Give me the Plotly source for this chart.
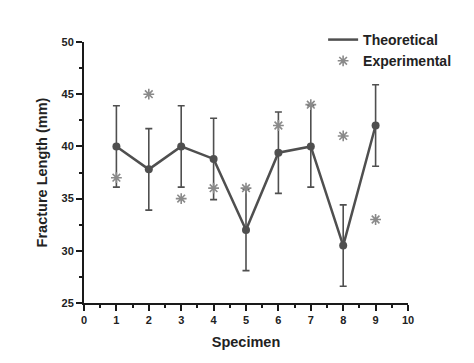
import plotly.graph_objects as go

specimen = [1, 2, 3, 4, 5, 6, 7, 8, 9]
theoretical = [40.0, 37.8, 40.0, 38.8, 32.0, 39.4, 40.0, 30.5, 42.0]
theo_err = [3.9, 3.9, 3.9, 3.9, 3.9, 3.9, 3.9, 3.9, 3.9]
experimental = [37, 45, 35, 36, 36, 42, 44, 41, 33]

FONT = "Arial, 'Liberation Sans', sans-serif"
LINE_C = "#4f4f4f"
EXP_C = "#8a8a8a"

fig = go.Figure()
fig.add_trace(go.Scatter(
    x=specimen, y=theoretical, mode="lines+markers", name="Theoretical",
    line=dict(color=LINE_C, width=2.5),
    marker=dict(symbol="circle", size=8, color=LINE_C),
    error_y=dict(type="data", array=theo_err, visible=True,
                 color=LINE_C, thickness=1.6, width=3.5),
    showlegend=False,
))
fig.add_trace(go.Scatter(
    x=[None], y=[None], mode="lines", name="Theoretical",
    line=dict(color=LINE_C, width=2.5),
))
fig.add_trace(go.Scatter(
    x=specimen, y=experimental, mode="markers", name="Experimental",
    marker=dict(symbol="asterisk-open", size=9, color=EXP_C,
                line=dict(color=EXP_C, width=1.6)),
))

axis_common = dict(
    showline=True, linecolor="#1a1a1a", linewidth=2,
    ticks="outside", tickcolor="#1a1a1a", tickwidth=2, ticklen=6,
    showgrid=False, zeroline=False, mirror=False,
    tickfont=dict(family=FONT, size=11, color="#222", weight="bold"),
)

fig.update_layout(
    width=466, height=355,
    margin=dict(l=76, r=66, t=34, b=60),
    paper_bgcolor="white", plot_bgcolor="white",
    font=dict(family=FONT, color="#222"),
    xaxis=dict(range=[0, 10], dtick=1, tick0=0,
               minor=dict(ticks="outside", dtick=0.5, ticklen=3,
                          tickcolor="#1a1a1a", tickwidth=2),
               title=dict(text="Specimen", standoff=12,
                          font=dict(family=FONT, size=14.5, color="#222", weight="bold")),
               automargin=False, **axis_common),
    yaxis=dict(range=[25, 50], dtick=5, tick0=25,
               minor=dict(ticks="outside", dtick=2.5, ticklen=3,
                          tickcolor="#1a1a1a", tickwidth=2),
               title=dict(text="Fracture Length (mm)", standoff=10,
                          font=dict(family=FONT, size=14.5, color="#222", weight="bold")),
               automargin=False, **axis_common),
    legend=dict(x=0.738, y=1.069, xanchor="left", yanchor="top",
                bgcolor="rgba(0,0,0,0)", tracegroupgap=0,
                itemwidth=30,
                font=dict(family=FONT, size=14, color="#222", weight="bold")),
)

fig.write_html("out.html")
